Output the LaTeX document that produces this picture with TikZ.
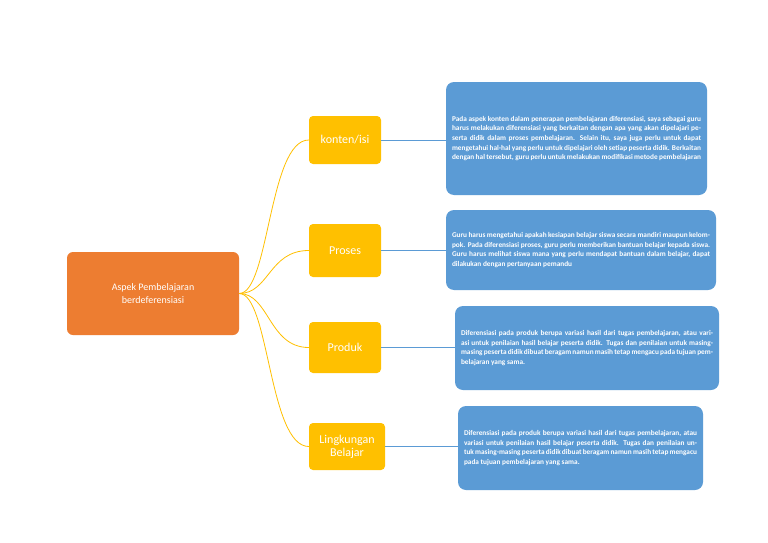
\documentclass[tikz,border=0pt]{standalone}
\usepackage{fontspec}
\setmainfont{Carlito}
\begin{document}
\begin{tikzpicture}[x=1pt,y=-1pt,
  ybox/.style={draw=none,fill=yellow!70!orange,rounded corners=4pt,text=white,font=\fontsize{12}{13}\selectfont,align=center,minimum width=72pt,inner sep=2pt},
  tbox/.style={fill=blue!45!cyan!70!black!80,fill=tb,rounded corners=8pt,text=white,font=\fontsize{7.3}{9.6}\selectfont\bfseries,align=justify,inner sep=6pt},
  yl/.style={draw=yl,line width=0.8pt},
  bl/.style={draw=tb,line width=0.8pt}]
\definecolor{tb}{HTML}{5B9BD5}
\definecolor{yl}{HTML}{FFC000}
\definecolor{or}{HTML}{ED7D31}
\useasboundingbox (0,0) rectangle (768,543);
\fill[white] (0,0) rectangle (768,543);
\node[fill=or,rounded corners=6pt,minimum width=172pt,minimum height=83pt,text=white,align=center,font=\fontsize{10}{13}\selectfont] (m) at (153,293.5) {Aspek Pembelajaran\\berdeferensiasi};
\node[ybox,fill=yl,minimum height=48pt] (k) at (345,140) {konten/isi};
\node[ybox,fill=yl,minimum height=53pt] (p) at (345,250.5) {Proses};
\node[ybox,fill=yl,minimum height=51pt] (d) at (345,347.5) {Produk};
\node[ybox,fill=yl,minimum width=76pt,minimum height=47pt] (l) at (347,446.5) {Lingkungan\\Belajar};
\node[tbox,minimum width=261pt,minimum height=113pt,text width=249pt] (t1) at (576.5,138.5) {Pada aspek konten dalam penerapan pembelajaran diferensiasi, saya sebagai guru harus melakukan diferensiasi yang berkaitan dengan apa yang akan dipelajari peserta didik dalam proses pembelajaran. Selain itu, saya juga perlu untuk dapat mengetahui hal-hal yang perlu untuk dipelajari oleh setiap peserta didik. Berkaitan dengan hal tersebut, guru perlu untuk melakukan modifikasi metode pembelajaran};
\node[tbox,minimum width=270pt,minimum height=80pt,text width=258pt] (t2) at (581,250) {Guru harus mengetahui apakah kesiapan belajar siswa secara mandiri maupun kelompok. Pada diferensiasi proses, guru perlu memberikan bantuan belajar kepada siswa. Guru harus melihat siswa mana yang perlu mendapat bantuan dalam belajar, dapat dilakukan dengan pertanyaan pemandu};
\node[tbox,minimum width=264pt,minimum height=84pt,text width=252pt] (t3) at (587,348) {Diferensiasi pada produk berupa variasi hasil dari tugas pembelajaran, atau variasi untuk penilaian hasil belajar peserta didik. Tugas dan penilaian untuk masing-masing peserta didik dibuat beragam namun masih tetap mengacu pada tujuan pembelajaran yang sama.};
\node[tbox,minimum width=245pt,minimum height=84pt,text width=233pt] (t4) at (580.5,448) {Diferensiasi pada produk berupa variasi hasil dari tugas pembelajaran, atau variasi untuk penilaian hasil belajar peserta didik. Tugas dan penilaian untuk masing-masing peserta didik dibuat beragam namun masih tetap mengacu pada tujuan pembelajaran yang sama.};
\foreach \n in {k,p,d,l} \draw[yl] (m.east) .. controls +(30,0) and +(-40,0) .. (\n.west);
\draw[bl] (k.east) -- (t1.west|-k.east);
\draw[bl] (p.east) -- (t2.west|-p.east);
\draw[bl] (d.east) -- (t3.west|-d.east);
\draw[bl] (l.east) -- (t4.west|-l.east);
\end{tikzpicture}
\end{document}
